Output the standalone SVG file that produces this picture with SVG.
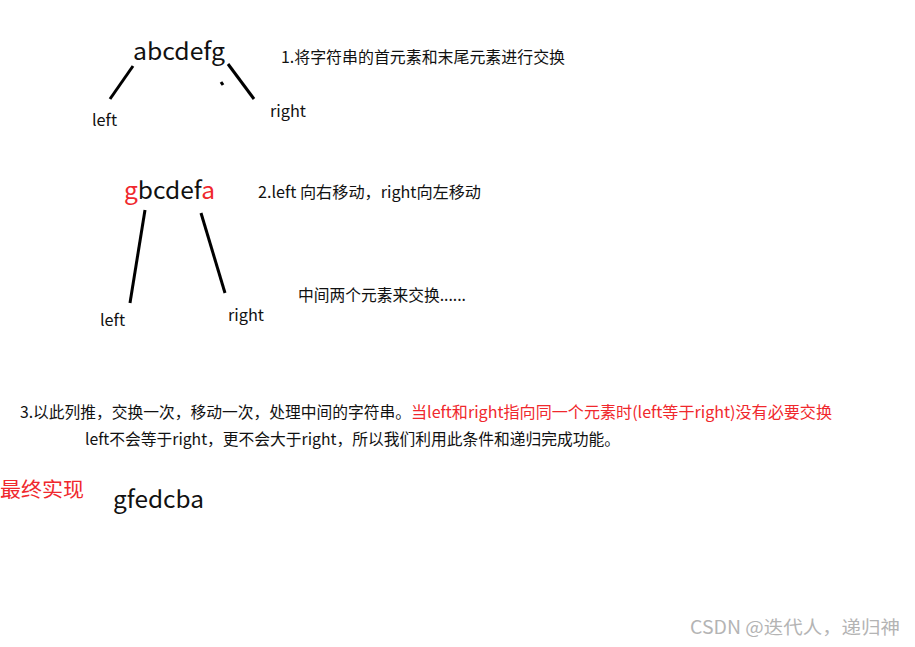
<svg xmlns="http://www.w3.org/2000/svg" width="915" height="647" viewBox="0 0 915 647">
<style>
text{font-family:"Noto Sans CJK SC","Liberation Sans",sans-serif;fill:#111}
.big{font-size:24px}
.m{font-size:16px}
.red{fill:#f0282d}
.ln{stroke:#000;stroke-width:3;stroke-linecap:butt;fill:none}
</style>
<rect width="915" height="647" fill="#fff"/>
<g id="step1">
<text class="big" x="133" y="60" textLength="92" lengthAdjust="spacingAndGlyphs">abcdefg</text>
<text class="m" x="281" y="63" textLength="284" lengthAdjust="spacingAndGlyphs">1.将字符串的首元素和末尾元素进行交换</text>
<text class="m" x="92" y="126" textLength="25" lengthAdjust="spacingAndGlyphs">left</text>
<text class="m" x="270" y="117" textLength="36" lengthAdjust="spacingAndGlyphs">right</text>
</g>
<g id="step2">
<text class="big" x="124" y="199" textLength="91" lengthAdjust="spacingAndGlyphs"><tspan class="red">g</tspan>bcdef<tspan class="red">a</tspan></text>
<text class="m" x="258" y="198" textLength="223" lengthAdjust="spacingAndGlyphs">2.left 向右移动，right向左移动</text>
<text class="m" x="100" y="326" textLength="25" lengthAdjust="spacingAndGlyphs">left</text>
<text class="m" x="228" y="321" textLength="36" lengthAdjust="spacingAndGlyphs">right</text>
<text class="m" x="298" y="301" textLength="168" lengthAdjust="spacingAndGlyphs">中间两个元素来交换......</text>
</g>
<g id="step3">
<text class="m" x="20" y="418" textLength="391" lengthAdjust="spacingAndGlyphs">3.以此列推，交换一次，移动一次，处理中间的字符串。</text>
<text class="m red" x="411" y="418" textLength="421" lengthAdjust="spacingAndGlyphs">当left和right指向同一个元素时(left等于right)没有必要交换</text>
<text class="m" x="85" y="445" textLength="535" lengthAdjust="spacingAndGlyphs">left不会等于right，更不会大于right，所以我们利用此条件和递归完成功能。</text>
</g>
<g id="result">
<text class="red" x="0" y="497" font-size="20" textLength="84" lengthAdjust="spacingAndGlyphs">最终实现</text>
<text class="big" x="113" y="508" textLength="91" lengthAdjust="spacingAndGlyphs">gfedcba</text>
</g>
<g id="watermark">
<text x="690" y="634" font-size="18" style="fill:#b4b4b4" textLength="210" lengthAdjust="spacingAndGlyphs">CSDN @迭代人，递归神</text>
</g>
<g id="connectors">
<line class="ln" x1="133" y1="66" x2="110" y2="99"/>
<line class="ln" x1="228" y1="64" x2="254" y2="99"/>
<line class="ln" x1="221" y1="82" x2="223" y2="85" stroke-width="2"/>
<line class="ln" x1="145" y1="210" x2="130" y2="303"/>
<line class="ln" x1="201" y1="213" x2="225" y2="293"/>
</g>
</svg>
